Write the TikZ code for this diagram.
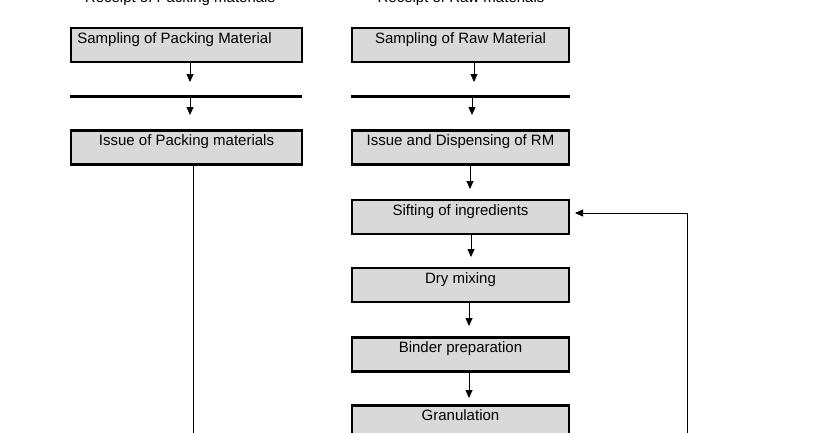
\documentclass[tikz,border=0pt]{standalone}
\usepackage{fontspec}
\setmainfont{Liberation Sans}
\usetikzlibrary{arrows.meta}
\begin{document}
\begin{tikzpicture}[x=1pt,y=-1pt,
  box/.style={draw=black,line width=2.2pt,fill={rgb,255:red,217;green,217;blue,217},minimum width=231pt,minimum height=34pt,inner sep=0pt,text height=11pt,text depth=15pt,font=\fontsize{15}{17}\selectfont},
  arr/.style={line width=0.8pt,-{Triangle[width=7pt,length=8pt]}},
  bar/.style={line width=3pt}]
\useasboundingbox (0,0) rectangle (821,432);
\clip (0,0) rectangle (821,432);
\node[font=\fontsize{15}{17}\selectfont] (rp) at (180,-1.5) {Receipt of Packing materials};
\node[font=\fontsize{15}{17}\selectfont] (rr) at (461,-1.5) {Receipt of Raw materials};
\node[box] (sp) at (186.5,45) {\hspace*{-24pt}Sampling of Packing Material};
\node[box,minimum width=217pt] (sr) at (460.5,45) {Sampling of Raw Material};
\coordinate (bl1) at (70,96); \coordinate (bl2) at (302,96);
\coordinate (br1) at (351,96); \coordinate (br2) at (570,96);
\draw[bar] (bl1) -- (bl2);
\draw[bar] (br1) -- (br2);
\node[box] (ip) at (186.5,147.5) {Issue of Packing materials};
\node[box,minimum width=217pt] (ir) at (460.5,147.5) {Issue and Dispensing of RM};
\node[box,minimum width=217pt] (si) at (460.5,217) {Sifting of ingredients};
\node[box,minimum width=217pt] (dm) at (460.5,285) {Dry mixing};
\node[box,minimum width=217pt] (bp) at (460.5,354.5) {Binder preparation};
\node[box,minimum width=217pt] (gr) at (460.5,422.5) {Granulation};
\coordinate (a1) at (190,82); \coordinate (a2) at (190,115);
\coordinate (a3) at (474,82); \coordinate (a4) at (472,115);
\draw[arr] (190,63) -- (a1);
\draw[arr] (190,96) -- (a2);
\draw[arr] (474,63) -- (a3);
\draw[arr] (472,96) -- (a4);
\draw[arr] (470,165) -- (470,189);
\draw[arr] (471,234) -- (471,257);
\draw[arr] (469,302) -- (469,326);
\draw[arr] (469,372) -- (469,398);
\coordinate (pl) at (193,440);
\draw[line width=0.8pt] (193,165) -- (pl);
\coordinate (fb1) at (687,440); \coordinate (fb2) at (687,213);
\draw[line width=0.8pt] (fb1) -- (fb2);
\draw[arr] (fb2) -- (575,213);
\end{tikzpicture}
\end{document}
